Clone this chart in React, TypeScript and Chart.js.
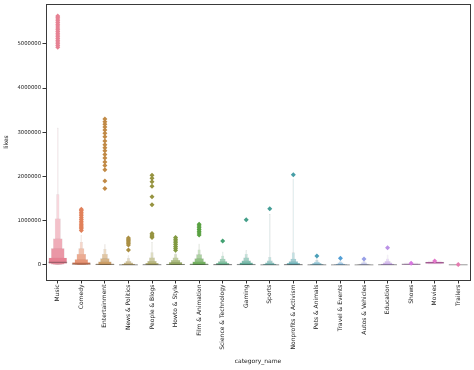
import React, { useEffect, useRef } from "react";
import { Chart, registerables } from "chart.js";
Chart.register(...registerables);

const categories = [
  "Music", "Comedy", "Entertainment", "News & Politics", "People & Blogs", "Howto & Style",
  "Film & Animation", "Science & Technology", "Gaming", "Sports", "Nonprofits & Activism",
  "Pets & Animals", "Travel & Events", "Autos & Vehicles", "Education", "Shows", "Movies", "Trailers",
];

const yTicks = [0, 1000000, 2000000, 3000000, 4000000, 5000000];

// letter-value boxes, level 0 = quartiles (widest), higher levels = further tails
const level0Lo = [28000, 5000, 2000, 500, 1000, 3000, 2000, 1500, 2000, 800, 1000, 800, 600, 500, 1500, 5000, 25000, 2000];
const level0Hi = [165000, 60000, 35000, 12000, 18000, 30000, 35000, 20000, 25000, 12000, 20000, 10000, 7000, 6000, 12000, 30000, 75000, 8000];
const level1Lo = [12000, 2000, 800, 200, 400, 1200, 800, 600, 800, 300, 400, 300, 200, 200, 600, 1000, 15000, null];
const level1Hi = [380000, 130000, 80000, 28000, 45000, 65000, 80000, 45000, 55000, 28000, 45000, 22000, 15000, 14000, 28000, 50000, 95000, null];
const level2Lo = [6000, 800, 300, 80, 150, 500, 300, 250, 300, 100, 150, 100, 80, 80, 200, null, null, null];
const level2Hi = [600000, 250000, 150000, 55000, 90000, 115000, 150000, 85000, 100000, 55000, 85000, 45000, 30000, 30000, 55000, null, null, null];
const level3Lo = [3000, 300, 100, 30, 50, 200, 100, 100, 100, 40, 50, 40, 30, 30, 80, null, null, null];
const level3Hi = [1050000, 380000, 250000, 90000, 170000, 170000, 240000, 140000, 170000, 100000, 140000, 75000, 55000, 55000, 90000, null, null, null];
const level4Lo = [1000, 100, 30, 10, 20, 60, 30, 30, 30, 10, 20, 10, 10, 10, 30, null, null, null];
const level4Hi = [1600000, 520000, 360000, 150000, 290000, 240000, 350000, 210000, 250000, 180000, 280000, 110000, 80000, 85000, 140000, null, null, null];
const level5Lo = [0, 0, 0, 0, 0, 0, 0, 0, 0, 0, 0, 0, 0, 0, 0, null, null, null];
const level5Hi = [3100000, 680000, 470000, 220000, 520000, 300000, 480000, 300000, 330000, 1150000, 1950000, 150000, 110000, 110000, 230000, null, null, null];

const medians = [60000, 22000, 10000, 3000, 5000, 10000, 10000, 6000, 8000, 3000, 5000, 3000, 2000, 2000, 5000, 15000, 50000, 4000];

const outliers: number[][] = [
  [4920000, 4960000, 5000000, 5040000, 5080000, 5120000, 5160000, 5200000, 5240000, 5280000, 5320000, 5360000, 5400000, 5440000, 5480000, 5520000, 5560000, 5600000, 5630000],
  [780000, 820000, 850000, 880000, 910000, 950000, 990000, 1030000, 1070000, 1110000, 1150000, 1190000, 1230000, 1260000],
  [1730000, 1900000, 2150000, 2250000, 2330000, 2420000, 2500000, 2580000, 2650000, 2720000, 2800000, 2900000, 2980000, 3050000, 3120000, 3180000, 3240000, 3300000],
  [340000, 450000, 490000, 520000, 550000, 580000, 610000],
  [620000, 650000, 680000, 710000, 1360000, 1540000, 1780000, 1880000, 1960000, 2030000],
  [330000, 380000, 420000, 460000, 500000, 540000, 580000, 620000],
  [680000, 720000, 760000, 800000, 840000, 880000, 920000],
  [540000],
  [1020000],
  [1270000],
  [2040000],
  [200000],
  [150000],
  [135000],
  [390000],
  [40000],
  [90000],
  [8000],
];

const levelLo = [level0Lo, level1Lo, level2Lo, level3Lo, level4Lo, level5Lo];
const levelHi = [level0Hi, level1Hi, level2Hi, level3Hi, level4Hi, level5Hi];
const levelWidth = [0.78, 0.57, 0.4, 0.25, 0.13, 0.06];

// ---- colour helpers (seaborn husl palette, desaturated 0.75) ----
const M = [
  [3.240969941904521, -1.537383177570093, -0.498610760293],
  [-0.96924363628087, 1.87596750150772, 0.041555057407175],
  [0.055630079696993, -0.20397695888897, 1.056971514242878],
];
const refU = 0.19783000664283, refV = 0.46831999493879, kappa = 903.2962962, eps = 0.0088564516;
function maxChroma(L: number, H: number) {
  const hrad = (H / 360) * Math.PI * 2;
  const sub1 = Math.pow(L + 16, 3) / 1560896;
  const sub2 = sub1 > eps ? sub1 : L / kappa;
  let min = Infinity;
  for (const [m1, m2, m3] of M) {
    for (const t of [0, 1]) {
      const top1 = (284517 * m1 - 94839 * m3) * sub2;
      const top2 = (838422 * m3 + 769860 * m2 + 731718 * m1) * L * sub2 - 769860 * t * L;
      const bottom = (632260 * m3 - 126452 * m2) * sub2 + 126452 * t;
      const slope = top1 / bottom, intercept = top2 / bottom;
      const len = intercept / (Math.sin(hrad) - slope * Math.cos(hrad));
      if (len >= 0) min = Math.min(min, len);
    }
  }
  return min;
}
function husl(H: number, S: number, L: number): number[] {
  const C = (maxChroma(L, H) / 100) * S;
  const hr = (H / 180) * Math.PI;
  const U = Math.cos(hr) * C, V = Math.sin(hr) * C;
  const varU = U / (13 * L) + refU, varV = V / (13 * L) + refV;
  const Y = L <= 8 ? L / kappa : Math.pow((L + 16) / 116, 3);
  const X = -(9 * Y * varU) / ((varU - 4) * varV - varU * varV);
  const Z = (9 * Y - 15 * varV * Y - varV * X) / (3 * varV);
  return M.map(([a, b, c]) => {
    const v = a * X + b * Y + c * Z;
    const s = v <= 0.0031308 ? 12.92 * v : 1.055 * Math.pow(v, 1 / 2.4) - 0.055;
    return Math.max(0, Math.min(1, s));
  });
}
function rgbToHls(r: number, g: number, b: number) {
  const mx = Math.max(r, g, b), mn = Math.min(r, g, b);
  const l = (mx + mn) / 2;
  if (mx === mn) return [0, l, 0];
  const d = mx - mn;
  const s = l <= 0.5 ? d / (mx + mn) : d / (2 - mx - mn);
  const rc = (mx - r) / d, gc = (mx - g) / d, bc = (mx - b) / d;
  let h = r === mx ? bc - gc : g === mx ? 2 + rc - bc : 4 + gc - rc;
  h = (((h / 6) % 1) + 1) % 1;
  return [h, l, s];
}
function hlsToRgb(h: number, l: number, s: number) {
  if (s === 0) return [l, l, l];
  const m2 = l <= 0.5 ? l * (1 + s) : l + s - l * s;
  const m1 = 2 * l - m2;
  const v = (hue: number) => {
    hue = ((hue % 1) + 1) % 1;
    if (hue < 1 / 6) return m1 + (m2 - m1) * hue * 6;
    if (hue < 0.5) return m2;
    if (hue < 2 / 3) return m1 + (m2 - m1) * (2 / 3 - hue) * 6;
    return m1;
  };
  return [v(h + 1 / 3), v(h), v(h - 1 / 3)];
}
function toCss(c: number[], a = 1) {
  return `rgba(${Math.round(c[0] * 255)},${Math.round(c[1] * 255)},${Math.round(c[2] * 255)},${a})`;
}

const framePlugin = {
  id: "frame",
  afterDraw(chart: any) {
    const { ctx, chartArea } = chart;
    ctx.save();
    ctx.strokeStyle = "#3a3a3a";
    ctx.lineWidth = 1;
    ctx.strokeRect(Math.round(chartArea.left) + 0.5, Math.round(chartArea.top) + 0.5,
      Math.round(chartArea.right - chartArea.left), Math.round(chartArea.bottom - chartArea.top));
    ctx.restore();
  },
};

export default function App() {
  const ref = useRef<HTMLCanvasElement>(null);
  useEffect(() => {
    document.body.style.margin = "0";
    const n = categories.length;
    const base = categories.map((_, i) => {
      const h = ((i / n + 0.01) % 1) * 359;
      const rgb = husl(h, 89.1, 64.35);
      const [hh, ll, ss] = rgbToHls(rgb[0], rgb[1], rgb[2]);
      return hlsToRgb(hh, ll, ss * 0.75);
    });
    const nLevels = categories.map((_, j) => levelLo.filter((arr) => arr[j] !== null).length);

    const boxSets = levelLo.map((lo, i) => ({
      type: "bar" as const,
      label: `level${i}`,
      data: categories.map((_, j) => (lo[j] === null ? null : [lo[j], levelHi[i][j]])) as any,
      backgroundColor: categories.map((_, j) => {
        const t = nLevels[j] > 1 ? (i / (nLevels[j] - 1)) * 0.85 : 0;
        const c = base[j].map((v) => v + t * (1 - v));
        return toCss(c);
      }),
      borderColor: "rgba(70,70,70,0.35)",
      borderWidth: 0.3,
      borderSkipped: false,
      grouped: false,
      barPercentage: levelWidth[i],
      categoryPercentage: 1,
    }));

    const outPts: any[] = [];
    const outCols: string[] = [];
    outliers.forEach((arr, j) => arr.forEach((v) => { outPts.push({ x: categories[j], y: v }); outCols.push(toCss(base[j])); }));

    const chart = new Chart(ref.current!, {
      type: "bar",
      data: {
        labels: categories,
        datasets: [
          {
            type: "line" as const,
            label: "outliers",
            data: outPts,
            showLine: false,
            pointStyle: "rectRot",
            pointRadius: 2.5,
            pointBackgroundColor: outCols,
            pointBorderColor: outCols,
            pointBorderWidth: 0,
          } as any,
          {
            type: "line" as const,
            label: "median",
            data: categories.map((c, j) => ({ x: c, y: medians[j] })),
            showLine: false,
            pointStyle: "line",
            pointRadius: 9.4,
            pointBorderColor: "rgba(38,38,38,0.45)",
            pointBorderWidth: 1,
          } as any,
          ...boxSets,
        ],
      },
      options: {
        responsive: false,
        animation: false,
        devicePixelRatio: 1,
        layout: { autoPadding: false, padding: { top: 4, right: 4, left: 0, bottom: 0 } },
        plugins: { legend: { display: false }, tooltip: { enabled: false } },
        scales: {
          x: {
            type: "category",
            offset: true,
            grid: { display: true, offset: false, drawOnChartArea: false, drawTicks: true, tickLength: 3.5, color: "#333" },
            border: { display: false },
            ticks: {
              autoSkip: false, minRotation: 90, maxRotation: 90, padding: 1,
              color: "#222", font: { family: "DejaVu Sans", size: 6 },
            },
            title: { display: true, text: "category_name", color: "#222", font: { family: "DejaVu Sans", size: 6 }, padding: { top: 0, bottom: 5 } },
            afterFit: (s: any) => { s.height = 90; s.paddingLeft = 0; s.paddingRight = 0; },
          },
          y: {
            type: "linear",
            min: -340000,
            max: 5900000,
            afterBuildTicks: (s: any) => { s.ticks = yTicks.map((v) => ({ value: v })); },
            grid: { display: true, drawOnChartArea: false, drawTicks: true, tickLength: 3.5, color: "#333" },
            border: { display: false },
            ticks: {
              padding: 1.5, color: "#222", font: { family: "DejaVu Sans", size: 5.3 },
              callback: (v: any) => String(v),
            },
            title: { display: true, text: "likes", color: "#222", font: { family: "DejaVu Sans", size: 6 }, padding: { top: 3, bottom: 0 } },
            afterFit: (s: any) => { s.width = 46; s.paddingTop = 0; s.paddingBottom = 0; },
          },
        },
      },
      plugins: [framePlugin],
    });
    return () => chart.destroy();
  }, []);
  return (
    <div style={{ width: 474, height: 370 }}>
      <canvas ref={ref} width={474} height={370} style={{ display: "block", width: 474, height: 370 }} />
    </div>
  );
}
